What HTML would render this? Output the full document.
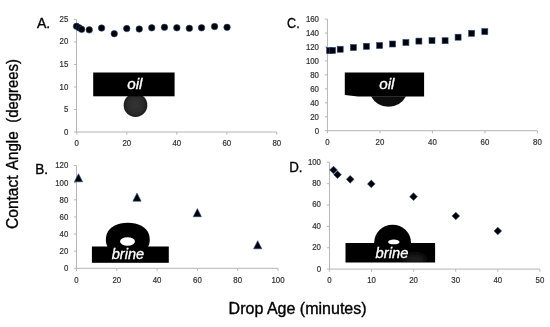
<!DOCTYPE html>
<html lang="en"><head><meta charset="utf-8"><title>Contact angle vs drop age</title>
<style>
html,body{margin:0;padding:0;background:#fff;}
body{width:550px;height:327px;overflow:hidden;}
svg{display:block;}
text{font-family:"Liberation Sans",sans-serif;}
.tk{font-size:8.5px;fill:#303030;stroke:#303030;stroke-width:0.2;}
.pl{font-size:14.6px;fill:#000;stroke:#000;stroke-width:0.35;}
.ax{font-size:15.6px;fill:#000;stroke:#000;stroke-width:0.35;}
.in{font-size:13.8px;font-style:italic;fill:#fff;stroke:#fff;stroke-width:0.3;}
.a{stroke:#b6b6b6;stroke-width:1;fill:none;}
.m{fill:#000;stroke:#264a86;stroke-width:0.6;}
</style></head><body>
<svg width="550" height="327" viewBox="0 0 550 327">
<defs>
<filter id="b" x="-10%" y="-10%" width="120%" height="120%"><feGaussianBlur stdDeviation="0.35"/></filter>
<filter id="b2" x="-30%" y="-30%" width="160%" height="160%"><feGaussianBlur stdDeviation="0.6"/></filter>
<filter id="b3" x="-30%" y="-30%" width="160%" height="160%"><feGaussianBlur stdDeviation="0.45"/></filter>
<radialGradient id="gA" cx="50%" cy="50%" r="50%"><stop offset="0" stop-color="#333"/><stop offset="0.75" stop-color="#2b2b2b"/><stop offset="1" stop-color="#1a1a1a"/></radialGradient>
<clipPath id="cD"><rect x="346" y="243.5" width="88.6" height="18.5"/></clipPath>
<filter id="b4" x="-40%" y="-60%" width="180%" height="220%"><feGaussianBlur stdDeviation="2.2"/></filter>
</defs>
<rect width="550" height="327" fill="#fff"/>
<g id="panelA">
<path class="a" d="M76.5 19.4 V132 H276.8 M76.8 132 v2.6 M126.8 132 v2.6 M176.8 132 v2.6 M226.8 132 v2.6 M276.8 132 v2.6 M76.5 132 h-2.6 M76.5 109.48 h-2.6 M76.5 86.96 h-2.6 M76.5 64.44 h-2.6 M76.5 41.92 h-2.6 M76.5 19.4 h-2.6"/>
<text class="tk" x="76.8" y="146.3" text-anchor="middle" textLength="4.37" lengthAdjust="spacingAndGlyphs">0</text>
<text class="tk" x="126.8" y="146.3" text-anchor="middle" textLength="8.74" lengthAdjust="spacingAndGlyphs">20</text>
<text class="tk" x="176.8" y="146.3" text-anchor="middle" textLength="8.74" lengthAdjust="spacingAndGlyphs">40</text>
<text class="tk" x="226.8" y="146.3" text-anchor="middle" textLength="8.74" lengthAdjust="spacingAndGlyphs">60</text>
<text class="tk" x="276.8" y="146.3" text-anchor="middle" textLength="8.74" lengthAdjust="spacingAndGlyphs">80</text>
<text class="tk" x="68.3" y="134.55" text-anchor="end" textLength="4.37" lengthAdjust="spacingAndGlyphs">0</text>
<text class="tk" x="68.3" y="112.03" text-anchor="end" textLength="4.37" lengthAdjust="spacingAndGlyphs">5</text>
<text class="tk" x="68.3" y="89.51" text-anchor="end" textLength="8.74" lengthAdjust="spacingAndGlyphs">10</text>
<text class="tk" x="68.3" y="66.99" text-anchor="end" textLength="8.74" lengthAdjust="spacingAndGlyphs">15</text>
<text class="tk" x="68.3" y="44.47" text-anchor="end" textLength="8.74" lengthAdjust="spacingAndGlyphs">20</text>
<text class="tk" x="68.3" y="21.95" text-anchor="end" textLength="8.74" lengthAdjust="spacingAndGlyphs">25</text>
<circle class="m" cx="76.55" cy="26.35" r="3.25"/>
<circle class="m" cx="79.15" cy="27.85" r="3.25"/>
<circle class="m" cx="81.65" cy="29.35" r="3.25"/>
<circle class="m" cx="89.25" cy="29.85" r="3.25"/>
<circle class="m" cx="101.55" cy="28.05" r="3.25"/>
<circle class="m" cx="114.25" cy="33.65" r="3.25"/>
<circle class="m" cx="126.75" cy="28.55" r="3.25"/>
<circle class="m" cx="139.25" cy="29.05" r="3.25"/>
<circle class="m" cx="151.75" cy="27.85" r="3.25"/>
<circle class="m" cx="164.45" cy="27.35" r="3.25"/>
<circle class="m" cx="176.85" cy="27.85" r="3.25"/>
<circle class="m" cx="189.35" cy="28.35" r="3.25"/>
<circle class="m" cx="201.55" cy="27.85" r="3.25"/>
<circle class="m" cx="214.55" cy="26.55" r="3.25"/>
<circle class="m" cx="227.05" cy="27.35" r="3.25"/>
<text class="pl" x="36.9" y="27.6" textLength="13.3" lengthAdjust="spacingAndGlyphs">A.</text>
<g filter="url(#b)">
<circle cx="135.5" cy="105.2" r="11.8" fill="url(#gA)"/>
<rect x="93.2" y="72.5" width="81.4" height="23.8" fill="#050505"/>
</g>
<text class="in" x="134.9" y="88.6" text-anchor="middle" textLength="15.2" lengthAdjust="spacingAndGlyphs">oil</text>
</g>
<g id="panelC">
<path class="a" d="M327.45 19.1 V130.7 H537.3 M327.45 130.7 v2.6 M379.95 130.7 v2.6 M432.45 130.7 v2.6 M484.95 130.7 v2.6 M537.45 130.7 v2.6 M327.45 130.7 h-2.6 M327.45 116.75 h-2.6 M327.45 102.8 h-2.6 M327.45 88.85 h-2.6 M327.45 74.9 h-2.6 M327.45 60.95 h-2.6 M327.45 47 h-2.6 M327.45 33.05 h-2.6 M327.45 19.1 h-2.6"/>
<text class="tk" x="327.45" y="145.2" text-anchor="middle" textLength="4.37" lengthAdjust="spacingAndGlyphs">0</text>
<text class="tk" x="379.95" y="145.2" text-anchor="middle" textLength="8.74" lengthAdjust="spacingAndGlyphs">20</text>
<text class="tk" x="432.45" y="145.2" text-anchor="middle" textLength="8.74" lengthAdjust="spacingAndGlyphs">40</text>
<text class="tk" x="484.95" y="145.2" text-anchor="middle" textLength="8.74" lengthAdjust="spacingAndGlyphs">60</text>
<text class="tk" x="537.45" y="145.2" text-anchor="middle" textLength="8.74" lengthAdjust="spacingAndGlyphs">80</text>
<text class="tk" x="319" y="133.9" text-anchor="end" textLength="4.37" lengthAdjust="spacingAndGlyphs">0</text>
<text class="tk" x="319" y="119.95" text-anchor="end" textLength="8.74" lengthAdjust="spacingAndGlyphs">20</text>
<text class="tk" x="319" y="106" text-anchor="end" textLength="8.74" lengthAdjust="spacingAndGlyphs">40</text>
<text class="tk" x="319" y="92.05" text-anchor="end" textLength="8.74" lengthAdjust="spacingAndGlyphs">60</text>
<text class="tk" x="319" y="78.1" text-anchor="end" textLength="8.74" lengthAdjust="spacingAndGlyphs">80</text>
<text class="tk" x="319" y="64.15" text-anchor="end" textLength="13.11" lengthAdjust="spacingAndGlyphs">100</text>
<text class="tk" x="319" y="50.2" text-anchor="end" textLength="13.11" lengthAdjust="spacingAndGlyphs">120</text>
<text class="tk" x="319" y="36.25" text-anchor="end" textLength="13.11" lengthAdjust="spacingAndGlyphs">140</text>
<text class="tk" x="319" y="22.3" text-anchor="end" textLength="13.11" lengthAdjust="spacingAndGlyphs">160</text>
<rect class="m" x="326.6" y="47.6" width="6" height="6"/>
<rect class="m" x="329.6" y="47.4" width="6" height="6"/>
<rect class="m" x="337.2" y="46.25" width="6" height="6"/>
<rect class="m" x="350.4" y="44.5" width="6" height="6"/>
<rect class="m" x="363.4" y="43.3" width="6" height="6"/>
<rect class="m" x="376.6" y="42.5" width="6" height="6"/>
<rect class="m" x="389.6" y="41" width="6" height="6"/>
<rect class="m" x="402.9" y="39.5" width="6" height="6"/>
<rect class="m" x="415.9" y="38.1" width="6" height="6"/>
<rect class="m" x="429" y="37.6" width="6" height="6"/>
<rect class="m" x="442.1" y="37.7" width="6" height="6"/>
<rect class="m" x="455.1" y="34.2" width="6" height="6"/>
<rect class="m" x="468.6" y="30.3" width="6" height="6"/>
<rect class="m" x="481.8" y="28.6" width="6" height="6"/>
<text class="pl" x="287.1" y="27.6" textLength="12.6" lengthAdjust="spacingAndGlyphs">C.</text>
<g filter="url(#b)">
<path d="M371 96.3 A19.9 19.9 0 0 0 406 96.3z" fill="#0e0e0e"/>
<path d="M344.8 72.5 H424.1 V96.5 H370 L358 96.4 L344.8 95.1Z" fill="#050505"/>
</g>
<text class="in" x="386.8" y="88.7" text-anchor="middle" textLength="15.2" lengthAdjust="spacingAndGlyphs">oil</text>
</g>
<g id="panelB">
<path class="a" d="M76.5 165.5 V268.3 H278 M76.5 268.3 v2.6 M116.8 268.3 v2.6 M157.1 268.3 v2.6 M197.4 268.3 v2.6 M237.7 268.3 v2.6 M278 268.3 v2.6 M76.5 268.3 h-2.6 M76.5 251.18 h-2.6 M76.5 234.06 h-2.6 M76.5 216.94 h-2.6 M76.5 199.82 h-2.6 M76.5 182.7 h-2.6 M76.5 165.58 h-2.6"/>
<text class="tk" x="76.5" y="283.2" text-anchor="middle" textLength="4.37" lengthAdjust="spacingAndGlyphs">0</text>
<text class="tk" x="116.8" y="283.2" text-anchor="middle" textLength="8.74" lengthAdjust="spacingAndGlyphs">20</text>
<text class="tk" x="157.1" y="283.2" text-anchor="middle" textLength="8.74" lengthAdjust="spacingAndGlyphs">40</text>
<text class="tk" x="197.4" y="283.2" text-anchor="middle" textLength="8.74" lengthAdjust="spacingAndGlyphs">60</text>
<text class="tk" x="237.7" y="283.2" text-anchor="middle" textLength="8.74" lengthAdjust="spacingAndGlyphs">80</text>
<text class="tk" x="278" y="283.2" text-anchor="middle" textLength="13.11" lengthAdjust="spacingAndGlyphs">100</text>
<text class="tk" x="68.3" y="271.1" text-anchor="end" textLength="4.37" lengthAdjust="spacingAndGlyphs">0</text>
<text class="tk" x="68.3" y="253.98" text-anchor="end" textLength="8.74" lengthAdjust="spacingAndGlyphs">20</text>
<text class="tk" x="68.3" y="236.86" text-anchor="end" textLength="8.74" lengthAdjust="spacingAndGlyphs">40</text>
<text class="tk" x="68.3" y="219.74" text-anchor="end" textLength="8.74" lengthAdjust="spacingAndGlyphs">60</text>
<text class="tk" x="68.3" y="202.62" text-anchor="end" textLength="8.74" lengthAdjust="spacingAndGlyphs">80</text>
<text class="tk" x="68.3" y="185.5" text-anchor="end" textLength="13.11" lengthAdjust="spacingAndGlyphs">100</text>
<text class="tk" x="68.3" y="168.38" text-anchor="end" textLength="13.11" lengthAdjust="spacingAndGlyphs">120</text>
<path class="m" d="M78.5 173.7 l4.1 8.1 h-8.2z"/>
<path class="m" d="M137 193.1 l4.1 8.1 h-8.2z"/>
<path class="m" d="M197.35 208.6 l4.1 8.1 h-8.2z"/>
<path class="m" d="M257.7 240.7 l4.1 8.1 h-8.2z"/>
<text class="pl" x="35.2" y="173.7" textLength="12.9" lengthAdjust="spacingAndGlyphs">B.</text>
<g filter="url(#b)">
<path d="M107.8 247.5 C105.4 243.5 105.4 238.5 106.6 234.5 C109 227 117.5 222.8 127.8 222.8 C138.1 222.8 146.6 227 149 234.5 C150.2 238.5 150.2 243.5 147.8 247.5Z" fill="#050505"/>
<rect x="91.9" y="246.5" width="76.9" height="16.3" fill="#050505"/>
</g>
<ellipse cx="127.5" cy="241.5" rx="7.5" ry="4.2" fill="#fff" filter="url(#b2)"/>
<text class="in" x="127.9" y="258.8" text-anchor="middle" textLength="32.4" lengthAdjust="spacingAndGlyphs">brine</text>
</g>
<g id="panelD">
<path class="a" d="M329.5 162.3 V269.1 H540 M329.4 269.1 v2.6 M371.5 269.1 v2.6 M413.6 269.1 v2.6 M455.7 269.1 v2.6 M497.8 269.1 v2.6 M539.9 269.1 v2.6 M329.5 269.1 h-2.6 M329.5 247.74 h-2.6 M329.5 226.38 h-2.6 M329.5 205.02 h-2.6 M329.5 183.66 h-2.6 M329.5 162.3 h-2.6"/>
<text class="tk" x="329.4" y="283.4" text-anchor="middle" textLength="4.37" lengthAdjust="spacingAndGlyphs">0</text>
<text class="tk" x="371.5" y="283.4" text-anchor="middle" textLength="8.74" lengthAdjust="spacingAndGlyphs">10</text>
<text class="tk" x="413.6" y="283.4" text-anchor="middle" textLength="8.74" lengthAdjust="spacingAndGlyphs">20</text>
<text class="tk" x="455.7" y="283.4" text-anchor="middle" textLength="8.74" lengthAdjust="spacingAndGlyphs">30</text>
<text class="tk" x="497.8" y="283.4" text-anchor="middle" textLength="8.74" lengthAdjust="spacingAndGlyphs">40</text>
<text class="tk" x="539.9" y="283.4" text-anchor="middle" textLength="8.74" lengthAdjust="spacingAndGlyphs">50</text>
<text class="tk" x="321" y="271.5" text-anchor="end" textLength="4.37" lengthAdjust="spacingAndGlyphs">0</text>
<text class="tk" x="321" y="250.14" text-anchor="end" textLength="8.74" lengthAdjust="spacingAndGlyphs">20</text>
<text class="tk" x="321" y="228.78" text-anchor="end" textLength="8.74" lengthAdjust="spacingAndGlyphs">40</text>
<text class="tk" x="321" y="207.42" text-anchor="end" textLength="8.74" lengthAdjust="spacingAndGlyphs">60</text>
<text class="tk" x="321" y="186.06" text-anchor="end" textLength="8.74" lengthAdjust="spacingAndGlyphs">80</text>
<text class="tk" x="321" y="164.7" text-anchor="end" textLength="13.11" lengthAdjust="spacingAndGlyphs">100</text>
<path class="m" d="M333.5 166.15 l3.85 3.85 l-3.85 3.85 l-3.85 -3.85z"/>
<path class="m" d="M337.5 170.85 l3.85 3.85 l-3.85 3.85 l-3.85 -3.85z"/>
<path class="m" d="M350.2 175.45 l3.85 3.85 l-3.85 3.85 l-3.85 -3.85z"/>
<path class="m" d="M371.3 180.05 l3.85 3.85 l-3.85 3.85 l-3.85 -3.85z"/>
<path class="m" d="M413.5 192.85 l3.85 3.85 l-3.85 3.85 l-3.85 -3.85z"/>
<path class="m" d="M455.8 212.15 l3.85 3.85 l-3.85 3.85 l-3.85 -3.85z"/>
<path class="m" d="M497.8 227.15 l3.85 3.85 l-3.85 3.85 l-3.85 -3.85z"/>
<text class="pl" x="289.2" y="171.6" textLength="13.3" lengthAdjust="spacingAndGlyphs">D.</text>
<g filter="url(#b)">
<circle cx="392.6" cy="243.2" r="18.5" fill="#050505"/>
<rect x="345.5" y="243" width="89.6" height="19.5" fill="#050505"/>
<g clip-path="url(#cD)"><ellipse cx="414.5" cy="259" rx="10" ry="4" fill="#2a2a2a" opacity="0.75" filter="url(#b4)"/></g>
</g>
<ellipse cx="393.8" cy="241.9" rx="5.7" ry="2.45" fill="#fff" filter="url(#b3)"/>
<text class="in" x="392" y="258.4" text-anchor="middle" textLength="32.8" lengthAdjust="spacingAndGlyphs">brine</text>
</g>
<text class="ax" x="228.6" y="313.5" textLength="138" lengthAdjust="spacingAndGlyphs">Drop Age (minutes)</text>
<g transform="translate(17.8 229) rotate(-90)">
<text class="ax" x="0" y="0" textLength="53.6" lengthAdjust="spacingAndGlyphs">Contact</text>
<text class="ax" x="59" y="0" textLength="38.6" lengthAdjust="spacingAndGlyphs">Angle</text>
<text class="ax" x="106.3" y="0" textLength="63.6" lengthAdjust="spacingAndGlyphs">(degrees)</text>
</g>
</svg>
</body></html>
